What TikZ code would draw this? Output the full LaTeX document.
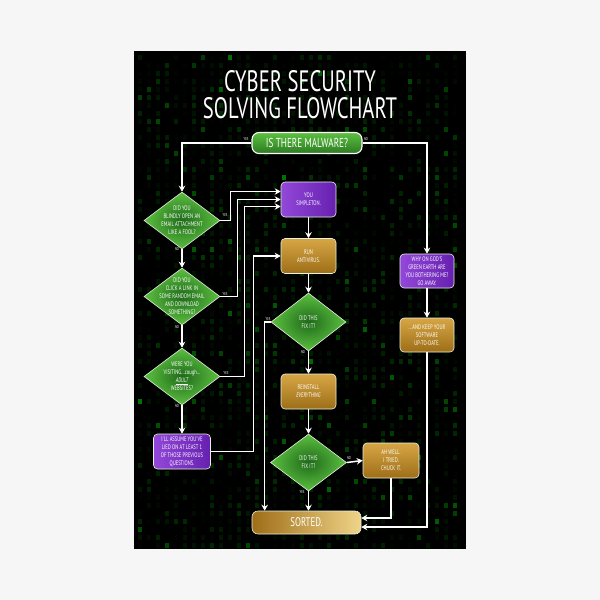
\documentclass[tikz,border=0pt]{standalone}
\usepackage{fontspec}
\newfontfamily\cond[FakeStretch=0.70]{PT Sans}
\usetikzlibrary{shapes.geometric,arrows.meta}
\definecolor{pagebg}{HTML}{F6F6F6}
\definecolor{gA}{HTML}{5CC040}
\definecolor{gB}{HTML}{1F6A1A}
\definecolor{pA}{HTML}{9248D8}
\definecolor{pB}{HTML}{6620B0}
\definecolor{oA}{HTML}{D6A645}
\definecolor{oB}{HTML}{9E6E18}
\definecolor{sA}{HTML}{F0D488}
\definecolor{edge}{HTML}{E8F0E0}
\begin{document}
\begin{tikzpicture}[x=1pt,y=-1pt,
  flow/.style={draw=white,line width=1.5pt,-{Stealth[length=6pt,width=6.5pt]}},
  dia/.style={diamond,draw=edge,line width=0.6pt,inner sep=0pt,minimum width=76pt,minimum height=57pt,inner color=gB,outer color=gA},
  boxbase/.style={rounded corners=4pt,draw=edge,line width=0.6pt,inner sep=0pt,minimum width=55pt,minimum height=35pt},
  purp/.style={boxbase,left color=pA,right color=pB},
  gold/.style={boxbase,top color=oA,bottom color=oB},
  txt/.style={text=white,align=center,font=\cond\fontsize{6.6}{8}\selectfont,inner sep=0pt},
  lbl/.style={text=white,font=\cond\fontsize{4.2}{5}\selectfont,inner sep=0pt}]
\useasboundingbox (0,0) rectangle (600,600);
\fill[pagebg] (0,0) rectangle (600,600);
\fill[black] (134,51) rectangle (466,549);
% matrix rain texture
\pgfmathsetseed{11}
\foreach \x in {138,147,...,460} {
  \foreach \y in {55,63,...,545} {
    \pgfmathtruncatemacro\k{rnd*rnd*rnd*50}
    \fill[green!\k!black] (\x,\y) rectangle ++(3.5,4.5);
  }
}
% title
\node[text=white,font=\cond\fontsize{29.5}{27}\selectfont,align=center,inner sep=0pt] (title) at (300,95) {CYBER SECURITY\\SOLVING FLOWCHART};
% start
\node[rounded corners=7pt,draw=white,line width=1.1pt,minimum width=110pt,minimum height=21pt,inner sep=0pt,top color=gA,bottom color=gB!80!gA,text=white,font=\cond\fontsize{13}{13}\selectfont] (start) at (307,143) {IS THERE MALWARE?};
% left column
\node[dia] (d1) at (182,220.5) {};
\node[txt] (t1) at (d1) {DID YOU\\BLINDLY OPEN AN\\EMAIL ATTACHMENT\\LIKE A FOOL?};
\node[dia] (d2) at (182,296.5) {};
\node[txt] (t2) at (d2) {DID YOU\\CLICK A LINK IN\\SOME RANDOM EMAIL\\AND DOWNLOAD\\SOMETHING?};
\node[dia] (d3) at (182,376.5) {};
\node[txt] (t3) at (d3) {WERE YOU\\VISITING...cough...\\\underline{\itshape ADULT}\\WEBSITES?};
\node[purp,minimum width=57pt] (assume) at (182,451.5) {};
\node[txt] (t4) at (assume) {I'LL ASSUME YOU'VE\\LIED ON AT LEAST 1\\OF THOSE PREVIOUS\\QUESTIONS.};
% middle column
\node[purp] (simp) at (308.5,199.5) {};
\node[txt] (t5) at (simp) {YOU\\SIMPLETON.};
\node[gold] (run) at (308.5,256) {};
\node[txt] (t6) at (run) {RUN\\ANTIVIRUS.};
\node[dia,minimum width=75pt,minimum height=58pt] (f1) at (308.5,322) {};
\node[txt] (t7) at (f1) {DID THIS\\FIX IT?};
\node[gold] (reinst) at (308.5,391.5) {};
\node[txt] (t8) at (reinst) {REINSTALL\\\itshape EVERYTHING};
\node[dia] (f2) at (308.5,462.5) {};
\node[txt] (t9) at (f2) {DID THIS\\FIX IT?};
\node[rounded corners=6pt,draw=edge,line width=0.6pt,inner sep=0pt,minimum width=109pt,minimum height=23pt,left color=oB,right color=sA,text=white,font=\cond\fontsize{12.5}{13}\selectfont] (sorted) at (306.5,522.5) {SORTED.};
\node[gold,minimum width=56pt] (ah) at (391,460.5) {};
\node[txt] (t10) at (ah) {AH WELL.\\I TRIED.\\CHUCK IT.};
% right column
\node[purp,minimum width=54pt,minimum height=34pt] (why) at (427,271) {};
\node[txt] (t11) at (why) {WHY ON GOD'S\\GREEN EARTH ARE\\YOU BOTHERING ME?\\GO AWAY.};
\node[gold,minimum width=54pt,minimum height=34pt] (keep) at (427,335) {};
\node[txt] (t12) at (keep) {...AND KEEP YOUR\\SOFTWARE\\UP-TO-DATE.};
% connectors
\draw[flow] (start.west) -| (d1.north);
\draw[flow] (start.east) -| (why.north);
\draw[flow] (d1.south) -- (d2.north);
\draw[flow] (d2.south) -- (d3.north);
\draw[flow] (d3.south) -- (assume.north);
\draw[flow] (d1.east) -- ++(10,0) |- ([yshift=8pt]simp.west);
\draw[flow] (d2.east) -- ++(17,0) |- (simp.west);
\draw[flow] (d3.east) -- ++(24,0) |- ([yshift=-7pt]simp.west);
\draw[flow] (assume.east) -- ++(42.5,0) |- (run.west);
\draw[flow] (simp) -- (run);
\draw[flow] (run) -- (f1);
\draw[flow] (f1.south) -- (reinst.north);
\draw[flow] (reinst) -- (f2);
\draw[flow] (f2.south) -- (f2.south |- sorted.north);
\draw[flow] (f1.west) -- ++(-6,0) coordinate (c1) -- (c1 |- sorted.north);
\draw[flow] (f2.east) -- (ah.west);
\draw[flow] (ah.south) |- ([yshift=4.5pt]sorted.east);
\draw[flow] (why) -- (keep);
\draw[flow] (keep.south) |- ([yshift=-4.5pt]sorted.east);
% labels
\node[lbl] (y0) at (246,139) {YES};
\node[lbl] (n0) at (366,139) {NO};
\node[lbl] (y1) at (225,215) {YES};
\node[lbl] (y2) at (225,294) {YES};
\node[lbl] (y3) at (226,373) {YES};
\node[lbl] (n1) at (177,249.5) {NO};
\node[lbl] (n2) at (177,327) {NO};
\node[lbl] (n3) at (177,406) {NO};
\node[lbl] (y4) at (268,319) {YES};
\node[lbl] (n4) at (303,352.5) {NO};
\node[lbl] (n5) at (349,458) {NO};
\node[lbl] (y5) at (302,492.5) {YES};
\end{tikzpicture}
\end{document}
